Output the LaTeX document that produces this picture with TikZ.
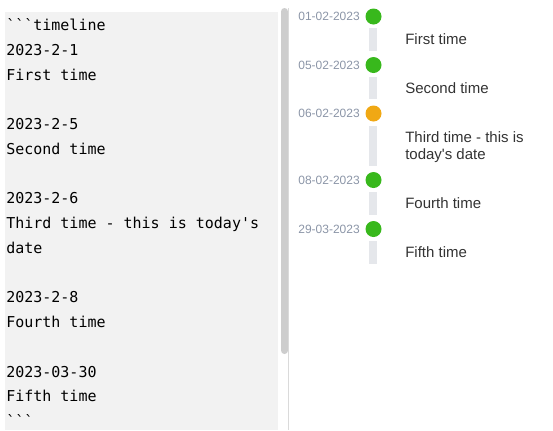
\documentclass[tikz,border=0pt]{standalone}
\usepackage{fontspec}
\setmainfont{Liberation Sans}[Ligatures=TeXOff]
\newfontfamily\monofont{DejaVu Sans Mono}[Ligatures=TeXOff]
\definecolor{panelbg}{HTML}{F2F2F2}
\definecolor{scrollc}{HTML}{CDCDCD}
\definecolor{divline}{HTML}{DADADA}
\definecolor{dotgreen}{HTML}{38B81C}
\definecolor{dotorange}{HTML}{F0A814}
\definecolor{barc}{HTML}{E5E7EB}
\definecolor{dategray}{HTML}{8B95A7}
\definecolor{evgray}{HTML}{333333}
\begin{document}
\begin{tikzpicture}[x=0.75pt,y=-0.75pt,
  mono/.style={anchor=base west, inner sep=0pt, font=\monofont\fontsize{11.25}{13}\selectfont, text=black},
  datelbl/.style={anchor=base east, inner sep=0pt, font=\fontsize{9}{11}\selectfont, text=dategray},
  evtxt/.style={anchor=base west, inner sep=0pt, font=\fontsize{11.25}{12.75}\selectfont, text=evgray},
  dot/.style={circle, inner sep=0pt, minimum size=12pt},
  barfill/.style={fill=barc}]
\useasboundingbox (0,0) rectangle (553,430);
% left code panel
\fill[panelbg] (5,12) rectangle (278,430);
\fill[scrollc, rounded corners=2.6pt] (281,8) rectangle (288,354);
\draw[divline, line width=0.75pt] (288.5,8) -- (288.5,430);
\node[mono] (c0) at (6,30.5) {```timeline};
\node[mono] (c1) at (6,55.25) {2023-2-1};
\node[mono] (c2) at (6,80) {First time};
\node[mono] (c4) at (6,129.5) {2023-2-5};
\node[mono] (c5) at (6,154.25) {Second time};
\node[mono] (c7) at (6,203.75) {2023-2-6};
\node[mono] (c8) at (6,228.5) {Third time - this is today's};
\node[mono] (c9) at (6,253.25) {date};
\node[mono] (c11) at (6,302.75) {2023-2-8};
\node[mono] (c12) at (6,327.5) {Fourth time};
\node[mono] (c14) at (6,377) {2023-03-30};
\node[mono] (c15) at (6,401.75) {Fifth time};
\node[mono] (c16) at (6,426.5) {```};
% timeline
\fill[barfill] (369,28) rectangle (377,51);
\fill[barfill] (369,77) rectangle (377,99);
\fill[barfill] (369,126) rectangle (377,166);
\fill[barfill] (369,192) rectangle (377,215);
\fill[barfill] (369,241) rectangle (377,264);
\node[dot, fill=dotgreen] (d1) at (373.5,16.5) {};
\node[dot, fill=dotgreen] (d2) at (373.5,65) {};
\node[dot, fill=dotorange] (d3) at (373.5,113.5) {};
\node[dot, fill=dotgreen] (d4) at (373.5,180) {};
\node[dot, fill=dotgreen] (d5) at (373.5,229) {};
\node[datelbl] (t1) at (360,20.8) {01-02-2023};
\node[datelbl] (t2) at (360,69.3) {05-02-2023};
\node[datelbl] (t3) at (360,117.8) {06-02-2023};
\node[datelbl] (t4) at (360,184.3) {08-02-2023};
\node[datelbl] (t5) at (360,233.3) {29-03-2023};
\node[evtxt] (e1) at (405,44.4) {First time};
\node[evtxt] (e2) at (405,93.4) {Second time};
\node[evtxt] (e3) at (405,142.4) {\parbox[t]{4cm}{\fontsize{11.25}{12.75}\selectfont Third time - this is\\today's date}};
\node[evtxt] (e4) at (405,208.4) {Fourth time};
\node[evtxt] (e5) at (405,257.4) {Fifth time};
\end{tikzpicture}
\end{document}
